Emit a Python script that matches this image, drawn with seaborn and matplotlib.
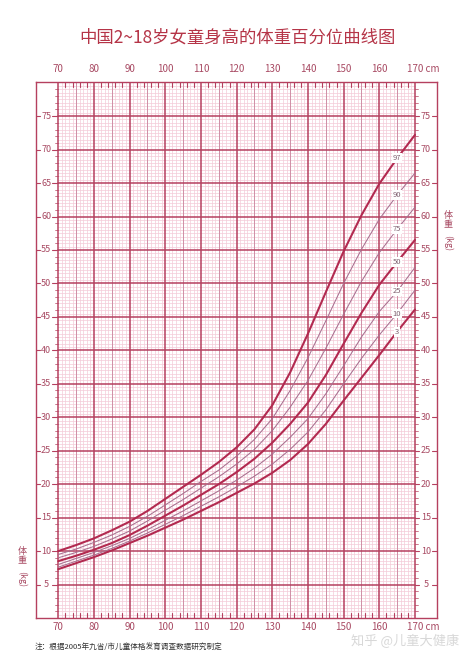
import numpy as np
import pandas as pd
import matplotlib
matplotlib.use("Agg")
import matplotlib.pyplot as plt
import seaborn as sns

# ---------------- data ----------------
heights = [70, 75, 80, 85, 90, 95, 100, 105, 110, 115, 120, 125, 130, 135, 140, 145, 150, 155, 160, 165, 170]
p3  = [7.3, 8.2, 9.1, 10.1, 11.2, 12.3, 13.5, 14.7, 16.0, 17.3, 18.7, 20.1, 21.7, 23.6, 26.0, 29.0, 32.5, 35.9, 39.3, 42.8, 46.1]
p10 = [7.6, 8.5, 9.4, 10.4, 11.5, 12.7, 14.0, 15.3, 16.7, 18.1, 19.6, 21.2, 23.0, 25.2, 27.8, 31.1, 35.0, 38.8, 42.3, 45.5, 49.0]
p25 = [8.0, 8.9, 9.8, 10.8, 11.9, 13.2, 14.6, 16.0, 17.5, 19.0, 20.6, 22.4, 24.5, 27.0, 29.8, 33.5, 37.7, 42.0, 45.8, 48.8, 52.4]
p50 = [8.5, 9.3, 10.2, 11.2, 12.4, 13.8, 15.3, 16.8, 18.4, 20.0, 21.8, 23.8, 26.2, 29.0, 32.2, 36.3, 41.0, 45.6, 49.8, 53.2, 56.5]
p75 = [9.0, 9.8, 10.7, 11.8, 13.0, 14.5, 16.1, 17.7, 19.4, 21.1, 23.0, 25.2, 28.0, 31.5, 35.5, 40.3, 45.4, 50.3, 54.6, 58.1, 61.4]
p90 = [9.5, 10.3, 11.3, 12.4, 13.7, 15.2, 16.9, 18.6, 20.4, 22.1, 24.2, 26.7, 29.8, 34.0, 38.9, 44.4, 50.0, 55.1, 59.6, 63.2, 66.5]
p97 = [10.0, 10.9, 11.9, 13.1, 14.4, 16.0, 17.8, 19.6, 21.4, 23.3, 25.5, 28.2, 31.8, 36.7, 42.5, 48.7, 54.8, 60.2, 64.9, 68.7, 72.2]
percentiles = ["3", "10", "25", "50", "75", "90", "97"]
series = [p3, p10, p25, p50, p75, p90, p97]
x_ticks = [70, 80, 90, 100, 110, 120, 130, 140, 150, 160, 170]
x_tick_labels = ["70", "80", "90", "100", "110", "120", "130", "140", "150", "160", "170 cm"]
y_ticks = [5, 10, 15, 20, 25, 30, 35, 40, 45, 50, 55, 60, 65, 70, 75]
title = "中国2~18岁女童身高的体重百分位曲线图"
note = "注：根据2005年九省/市儿童体格发育调查数据研究制定"
watermark = "知乎 @儿童大健康"
ylabel_cn = "体\n重"
ylabel_unit = "(kg)"

df = pd.DataFrame({
    "height": np.tile(heights, len(percentiles)),
    "weight": np.concatenate(series),
    "pct": np.repeat(percentiles, len(heights)),
})

# ---------------- style ----------------
sns.set_theme(style="white")
plt.rcParams["font.family"] = ["Noto Sans CJK SC", "DejaVu Sans"]

RED = "#b22a50"
THIN = "#a87090"
FINE = "#f4cbd8"
MID = "#cf8ea6"
MAJ = "#b5405f"
TXT = "#a84a63"

fig = plt.figure(figsize=(4.74, 6.58), dpi=100)
ax = fig.add_axes([36 / 474, 1 - 618 / 658, 401 / 474, 536 / 658])
X0, X1 = 63.75, 176.17
Y0, Y1 = 0, 80.1
ax.set_xlim(X0, X1)
ax.set_ylim(Y0, Y1)

# fine grid
for v in np.arange(70, 171, 1):
    if v % 10 == 0:
        continue
    c, lw, z = (MID, 0.7, 1.2) if v % 5 == 0 else (FINE, 0.5, 1)
    ax.plot([v, v], [0, 80.1], color=c, lw=lw, zorder=z)
for h in np.arange(0.5, 80, 0.5):
    if h % 5 == 0:
        continue
    ax.plot([70, 170], [h, h], color=FINE, lw=0.5, zorder=1)
# major grid
for v in x_ticks:
    ax.plot([v, v], [0, 80.1], color=MAJ, lw=1.1, zorder=2)
for h in y_ticks:
    ax.plot([70, 170], [h, h], color=MAJ, lw=1.1, zorder=2)

# small ticks along top / bottom every 2 cm
for v in np.arange(72, 170, 2):
    if v % 10 == 0:
        continue
    ax.plot([v, v], [0, 0.8], color=MAJ, lw=0.8, zorder=3)
    ax.plot([v, v], [79.3, 80.1], color=MAJ, lw=0.8, zorder=3)
# small ticks along left/right every 1 kg
for h in range(1, 80):
    if h % 5 == 0:
        continue
    ax.plot([69.1, 70], [h, h], color=MAJ, lw=0.5, zorder=3)
    ax.plot([170, 170.9], [h, h], color=MAJ, lw=0.5, zorder=3)

# y tick labels inside frame
for h in y_ticks:
    ax.plot([X0, 64.9], [h, h], color=MAJ, lw=0.8, zorder=3)
    ax.plot([68.3, 70], [h, h], color=MAJ, lw=0.8, zorder=3)
    ax.plot([170, 171.2], [h, h], color=MAJ, lw=0.8, zorder=3)
    ax.plot([174.9, X1], [h, h], color=MAJ, lw=0.8, zorder=3)
    ax.text(66.6, h, str(h), ha="center", va="center", fontsize=6.5, color=TXT, zorder=4)
    ax.text(173.05, h, str(h), ha="center", va="center", fontsize=6.5, color=TXT, zorder=4)

# curves
thick = {"3", "50", "97"}
palette = {p: (RED if p in thick else THIN) for p in percentiles}
sizes = {p: (1.5 if p in thick else 0.75) for p in percentiles}
sns.lineplot(data=df, x="height", y="weight", hue="pct", size="pct",
             palette=palette, sizes=sizes, hue_order=percentiles, size_order=percentiles,
             legend=False, ax=ax, zorder=5)

# curve labels
for p, s in zip(percentiles, series):
    ax.text(164.9, s[heights.index(165)], p, ha="center", va="center", fontsize=5.5,
            color="#806070", zorder=6,
            bbox=dict(boxstyle="square,pad=0.12", fc="white", ec="none"))

# frame
for sp in ax.spines.values():
    sp.set_color(MAJ)
    sp.set_linewidth(1.0)
ax.set_xticks([])
ax.set_yticks([])
ax.set_xlabel("")
ax.set_ylabel("")

# x tick labels top & bottom
for v, lab in zip(x_ticks, x_tick_labels):
    off = 2.4 if lab.endswith("cm") else 0
    ax.text(v + off, 82.0, lab, ha="center", va="center", fontsize=7, color=TXT, clip_on=False)
    ax.text(v + off, -1.3, lab, ha="center", va="center", fontsize=7, color=TXT, clip_on=False)

# y axis names
fig.text(22 / 474, 1 - 556 / 658, ylabel_cn, ha="center", va="center", fontsize=6.5,
         color=TXT, linespacing=1.1)
fig.text(22 / 474, 1 - 579 / 658, ylabel_unit, ha="center", va="center", fontsize=6.5,
         color=TXT, rotation=270)
fig.text(448 / 474, 1 - 220 / 658, ylabel_cn, ha="center", va="center", fontsize=6.5,
         color=TXT, linespacing=1.1)
fig.text(448 / 474, 1 - 243 / 658, ylabel_unit, ha="center", va="center", fontsize=6.5,
         color=TXT, rotation=270)

# title, note, watermark
fig.text(0.5, 1 - 38 / 658, title, ha="center", va="center", fontsize=12.5, color="#b53447")
fig.text(35 / 474, 1 - 648 / 658, note, ha="left", va="center", fontsize=5.5, color="#333333")
fig.text(405 / 474, 1 - 641 / 658, watermark, ha="center", va="center", fontsize=9.5,
         color="#d8d8d8")

fig.savefig("out.png", dpi=100, facecolor="white")
